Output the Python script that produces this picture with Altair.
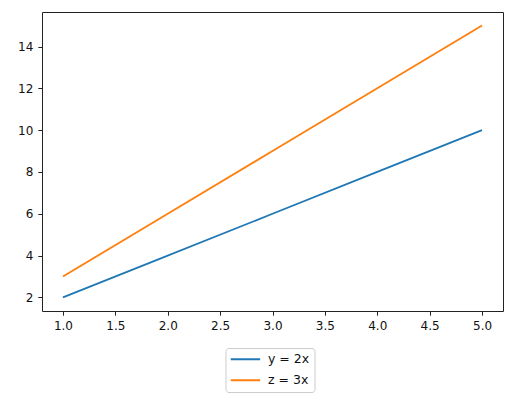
import altair as alt
import pandas as pd

xs = [1, 2, 3, 4, 5]
y_vals = [2, 4, 6, 8, 10]
z_vals = [3, 6, 9, 12, 15]
series_names = ["y = 2x", "z = 3x"]
colors = ["#1f77b4", "#ff7f0e"]
x_ticks = [1.0, 1.5, 2.0, 2.5, 3.0, 3.5, 4.0, 4.5, 5.0]
y_ticks = [2, 4, 6, 8, 10, 12, 14]

df = pd.DataFrame({
    "x": xs + xs,
    "v": y_vals + z_vals,
    "s": [series_names[0]] * len(xs) + [series_names[1]] * len(xs),
})

font = "DejaVu Sans"

chart = alt.Chart(df).mark_line(strokeWidth=1.8, clip=True).encode(
    x=alt.X("x:Q", scale=alt.Scale(domain=[0.8, 5.2], nice=False, zero=False),
            axis=alt.Axis(values=x_ticks, format=".1f", title=None)),
    y=alt.Y("v:Q", scale=alt.Scale(domain=[1.35, 15.65], nice=False, zero=False),
            axis=alt.Axis(values=y_ticks, format="d", title=None)),
    color=alt.Color("s:N", scale=alt.Scale(domain=series_names, range=colors),
                    legend=alt.Legend(title=None, orient="none", legendX=183.5, legendY=336,
                                      direction="vertical", symbolType="M-1.2,0H4.68",
                                      symbolSize=100, symbolStrokeWidth=2,
                                      strokeColor="#cccccc", fillColor="white",
                                      cornerRadius=3, padding=5, rowPadding=8,
                                      labelFont=font, labelFontSize=12.5,
                                      labelColor="#111", labelOffset=25)),
).properties(
    width=461, height=299,
    autosize=alt.AutoSizeParams(type="none"),
    padding={"left": 34, "top": 4, "right": 10, "bottom": 90},
).configure_view(
    stroke="#222", strokeWidth=1,
).configure_axis(
    grid=False, domain=False, tickColor="#222", tickSize=4.2, tickWidth=1,
    labelFont=font, labelFontSize=12, labelColor="#111", labelPadding=5,
).configure_legend(
    strokeColor="#cccccc",
)

chart.save("out.html", embed_options={"renderer": "svg", "actions": False})
